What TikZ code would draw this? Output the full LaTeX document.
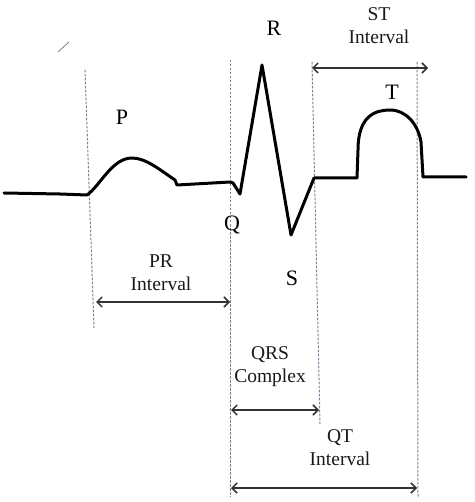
\documentclass[tikz,border=0pt]{standalone}
\usepackage{fontspec}
\setmainfont{Liberation Serif}
\usetikzlibrary{arrows.meta}
\definecolor{guidec}{RGB}{115,130,158}
\definecolor{spanc}{RGB}{50,50,50}
\begin{document}
\begin{tikzpicture}[x=1pt,y=-1pt,
  guide/.style={draw=guidec, line width=1pt, dash pattern=on 2.5pt off 1.5pt},
  trace/.style={line width=3pt, line join=round, line cap=round},
  span/.style={draw=spanc, line width=1.5pt, {Straight Barb[length=5pt,width=10pt]}-{Straight Barb[length=5pt,width=10pt]}},
  lbl/.style={font=\fontsize{19.5}{23}\selectfont, align=center, inner sep=0pt, text=black!90},
  wave/.style={font=\fontsize{22}{24}\selectfont, inner sep=0pt}]
\useasboundingbox (0,0) rectangle (474,502);
\fill[white] (0,0) rectangle (474,502);

% guide lines
\coordinate (g1t) at (85,70);  \coordinate (g1b) at (94,328);
\coordinate (g2t) at (230,60); \coordinate (g2b) at (230,497);
\coordinate (g3t) at (312,62); \coordinate (g3b) at (320,424);
\coordinate (g4t) at (417,62); \coordinate (g4b) at (418,497);
\draw[guide] (g1t) -- (g1b);
\draw[guide] (g2t) -- (g2b);
\draw[guide] (g3t) -- (g3b);
\draw[guide] (g4t) -- (g4b);

% small stray mark
\coordinate (m1) at (58,52); \coordinate (m2) at (69,42);
\draw[gray, line width=0.8pt] (m1) -- (m2);

% ECG trace
\draw[trace] (4,193) -- (60,194) -- (87,195)
  .. controls (100,186) and (112,158) .. (132,158)
  .. controls (146,158) and (160,170) .. (175,180)
  -- (177,185) -- (230,182) -- (233,183) -- (240,194)
  -- (262,65) -- (291,235) -- (314,178) -- (357,178)
  -- (358,150) .. controls (358,116) and (375,110) .. (390,110)
  .. controls (406,110) and (418,124) .. (421,142)
  -- (423,177) -- (466,177);

% wave labels
\node[wave] (P) at (122,117) {P};
\node[wave] (R) at (274,28) {R};
\node[wave] (T) at (392,92) {T};
\node[wave] (Q) at (232,225) {Q};
\node[wave] (S) at (292,278) {S};

% interval labels
\node[lbl] (ST) at (379,26) {ST\\Interval};
\node[lbl] (PR) at (161,273) {PR\\Interval};
\node[lbl] (QRS) at (270,367) {QRS\\Complex};
\node[lbl] (QT) at (340,448) {QT\\Interval};

% spans
\coordinate (stl) at (312,68);  \coordinate (str) at (428,68);
\coordinate (prl) at (96,302);  \coordinate (prr) at (230,302);
\coordinate (qrsl) at (231,410); \coordinate (qrsr) at (319,410);
\coordinate (qtl) at (231,488); \coordinate (qtr) at (417,488);
\draw[span] (stl) -- (str);
\draw[span] (prl) -- (prr);
\draw[span] (qrsl) -- (qrsr);
\draw[span] (qtl) -- (qtr);
\end{tikzpicture}
\end{document}
